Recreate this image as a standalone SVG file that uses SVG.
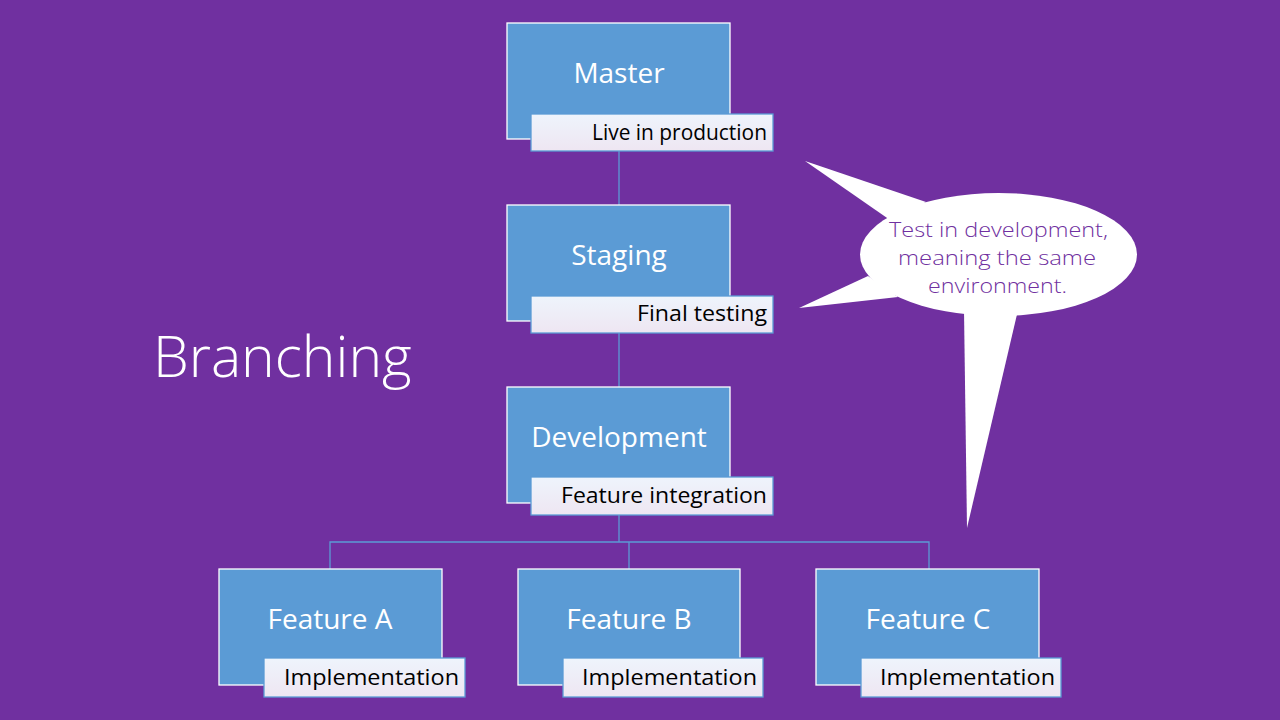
<svg xmlns="http://www.w3.org/2000/svg" width="1280" height="720" viewBox="0 0 1280 720">
<defs>
<linearGradient id="lg" x1="0" y1="0" x2="0" y2="1">
<stop offset="0" stop-color="#EEF4FC"/>
<stop offset="1" stop-color="#EEE6F2"/>
</linearGradient>
<style>
.box{fill:#5B9BD5;stroke:#FFFFFF;stroke-width:1.3}
.lbl{fill:url(#lg);stroke:#5B9BD5;stroke-width:1.3}
.t{font-family:"Open Sans","Noto Sans",sans-serif;font-size:28px;fill:#FFFFFF;text-anchor:middle}
.s{font-family:"Open Sans","Noto Sans",sans-serif;font-size:22px;fill:#000000;text-anchor:end}
.conn{stroke:#5B9BD5;stroke-width:1.3;fill:none}
.co{font-family:"Open Sans","Noto Sans",sans-serif;font-weight:300;font-size:20.5px;fill:#7030A0;text-anchor:middle}
</style>
</defs>
<rect x="0" y="0" width="1280" height="720" fill="#7030A0"/>
<text x="153" y="377" font-family="'Open Sans','Noto Sans',sans-serif" font-weight="300" font-size="57" fill="#FFFFFF">Branching</text>
<g id="connectors">
<line class="conn" x1="619" y1="139" x2="619" y2="205"/>
<line class="conn" x1="619" y1="321" x2="619" y2="387"/>
<line class="conn" x1="619" y1="503" x2="619" y2="542"/>
<polyline class="conn" points="330,569 330,542 929,542 929,569"/>
<line class="conn" x1="629" y1="542" x2="629" y2="569"/>
</g>
<g id="master">
<rect class="box" x="507" y="23" width="223" height="116"/>
<text class="t" x="619" y="83">Master</text>
<rect class="lbl" x="531" y="114" width="242" height="37"/>
<text class="s" x="767" y="140" textLength="175" lengthAdjust="spacingAndGlyphs">Live in production</text>
</g>
<g id="staging">
<rect class="box" x="507" y="205" width="223" height="116"/>
<text class="t" x="619" y="265">Staging</text>
<rect class="lbl" x="531" y="296" width="242" height="37"/>
<text class="s" x="767" y="321" textLength="130" lengthAdjust="spacingAndGlyphs">Final testing</text>
</g>
<g id="development">
<rect class="box" x="507" y="387" width="223" height="116"/>
<text class="t" x="619" y="447">Development</text>
<rect class="lbl" x="531" y="477" width="242" height="38"/>
<text class="s" x="767" y="503" textLength="206" lengthAdjust="spacingAndGlyphs">Feature integration</text>
</g>
<g id="featureA">
<rect class="box" x="219" y="569" width="223" height="116"/>
<text class="t" x="330" y="629">Feature A</text>
<rect class="lbl" x="264" y="658" width="201" height="39"/>
<text class="s" x="459" y="685" textLength="175" lengthAdjust="spacingAndGlyphs">Implementation</text>
</g>
<g id="featureB">
<rect class="box" x="518" y="569" width="222" height="116"/>
<text class="t" x="629" y="629">Feature B</text>
<rect class="lbl" x="563" y="658" width="200" height="39"/>
<text class="s" x="757" y="685" textLength="175" lengthAdjust="spacingAndGlyphs">Implementation</text>
</g>
<g id="featureC">
<rect class="box" x="816" y="569" width="223" height="116"/>
<text class="t" x="928" y="629">Feature C</text>
<rect class="lbl" x="861" y="658" width="200" height="39"/>
<text class="s" x="1055" y="685" textLength="175" lengthAdjust="spacingAndGlyphs">Implementation</text>
</g>
<g id="callout">
<polygon points="926,202 805,161 890,220" fill="#FFFFFF"/>
<polygon points="868,276 799,308 898,297" fill="#FFFFFF"/>
<polygon points="964,310 967,528 1018,310" fill="#FFFFFF"/>
<ellipse cx="998.5" cy="254.5" rx="138.5" ry="61.5" fill="#FFFFFF"/>
<text class="co" x="998.5" y="237" textLength="219" lengthAdjust="spacingAndGlyphs">Test in development,</text>
<text class="co" x="997" y="265" textLength="198" lengthAdjust="spacingAndGlyphs">meaning the same</text>
<text class="co" x="997.5" y="293" textLength="139" lengthAdjust="spacingAndGlyphs">environment.</text>
</g>
</svg>
